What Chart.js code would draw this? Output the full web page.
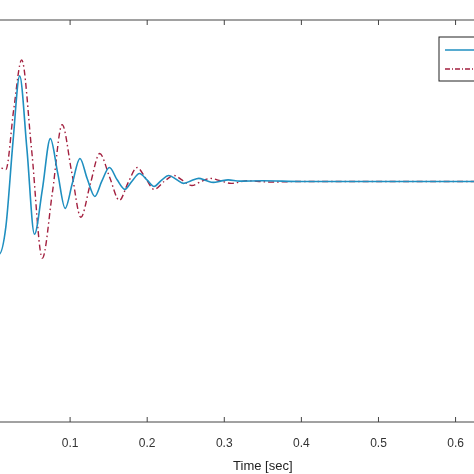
<!DOCTYPE html>
<html>
<head>
<meta charset="utf-8">
<script src="https://cdn.jsdelivr.net/npm/chart.js@4"></script>
<style>
  html, body { margin: 0; padding: 0; background: #fff; overflow: hidden; }
  #wrap { position: absolute; left: -13px; top: 0; width: 560px; height: 474px; }
</style>
</head>
<body>
<div id="wrap"><canvas id="c"></canvas></div>
<script>
// response 1 (solid, blue)
const timeA = [0, 0.008, 0.0167, 0.026, 0.0346, 0.044, 0.0538, 0.064, 0.0744, 0.084, 0.0936, 0.103, 0.1128, 0.122, 0.132, 0.141, 0.151, 0.161, 0.171, 0.18, 0.19, 0.2, 0.209, 0.218, 0.228, 0.238, 0.247, 0.257, 0.267, 0.276, 0.286, 0.295, 0.305, 0.32, 0.35, 0.4, 0.5, 0.6, 0.7];
const valueA = [-0.3, -0.45, -0.28, 0.25, 0.654, 0.2, -0.327, -0.05, 0.265, 0.05, -0.167, -0.01, 0.142, 0.02, -0.093, 0, 0.086, 0.01, -0.049, 0, 0.049, 0.008, -0.031, 0.005, 0.037, 0.012, -0.012, 0.004, 0.019, 0.006, -0.006, 0.002, 0.01, 0.002, 0.004, 0, 0, 0, 0];
// response 2 (dash-dot, red)
const timeB = [0, 0.008, 0.0167, 0.027, 0.0372, 0.05, 0.064, 0.077, 0.0897, 0.102, 0.114, 0.126, 0.1385, 0.151, 0.164, 0.175, 0.187, 0.198, 0.209, 0.222, 0.235, 0.246, 0.258, 0.27, 0.282, 0.295, 0.309, 0.33, 0.36, 0.4, 0.5, 0.6, 0.7];
const valueB = [0.1, 0.09, 0.074, 0.45, 0.753, 0.2, -0.475, -0.07, 0.352, 0.06, -0.222, -0.02, 0.173, 0.03, -0.117, -0.01, 0.086, 0.02, -0.049, 0, 0.037, 0.006, -0.025, 0, 0.019, 0.004, -0.012, 0.004, -0.004, 0, 0, 0, 0];
const labels = ['Response 1', 'Response 2'];
const xTicks = [0, 0.1, 0.2, 0.3, 0.4, 0.5, 0.6, 0.7];

const frame = {
    id: 'frame',
    afterDraw(chart) {
        const { ctx, chartArea: a, scales } = chart;
        ctx.save();
        ctx.strokeStyle = '#444';
        ctx.lineWidth = 1;
        ctx.strokeRect(a.left, a.top, a.right - a.left, a.bottom - a.top);
        xTicks.forEach(function (t) {
            const x = scales.x.getPixelForValue(t);
            ctx.beginPath();
            ctx.moveTo(x, a.top); ctx.lineTo(x, a.top + 5);
            ctx.moveTo(x, a.bottom); ctx.lineTo(x, a.bottom - 5);
            ctx.stroke();
        });
        // legend box
        const lx = 452, ly = 37;
        ctx.fillStyle = '#fff';
        ctx.fillRect(lx, ly, 200, 44);
        ctx.strokeStyle = '#222';
        ctx.strokeRect(lx, ly, 200, 44);
        ctx.lineWidth = 1.5;
        ctx.strokeStyle = '#1f8fc0';
        ctx.beginPath(); ctx.moveTo(lx + 6, ly + 13); ctx.lineTo(lx + 40, ly + 13); ctx.stroke();
        ctx.strokeStyle = '#a3203f';
        ctx.setLineDash([5, 2, 1, 2]);
        ctx.beginPath(); ctx.moveTo(lx + 6, ly + 32); ctx.lineTo(lx + 40, ly + 32); ctx.stroke();
        ctx.setLineDash([]);
        ctx.fillStyle = '#222';
        ctx.font = '12px "Liberation Sans Narrow", "Liberation Sans", sans-serif';
        ctx.textBaseline = 'middle';
        ctx.fillText(labels[0], lx + 46, ly + 13);
        ctx.fillText(labels[1], lx + 46, ly + 32);
        ctx.restore();
    }
};

new Chart(document.getElementById('c'), {
    type: 'line',
    data: {
        datasets: [{
            label: labels[0],
            data: timeA.map((t, i) => ({ x: t, y: valueA[i] })),
            borderColor: '#1f8fc0',
            borderWidth: 1.6,
            pointRadius: 0,
            cubicInterpolationMode: 'monotone'
        }, {
            label: labels[1],
            data: timeB.map((t, i) => ({ x: t, y: valueB[i] })),
            borderColor: '#a3203f',
            borderWidth: 1.4,
            borderDash: [6, 3, 1.5, 3],
            pointRadius: 0,
            cubicInterpolationMode: 'monotone'
        }]
    },
    plugins: [frame],
    options: {
        responsive: true,
        maintainAspectRatio: false,
        animation: false,
        layout: { padding: { top: 20, left: 0, right: 0, bottom: 0 } },
        plugins: { legend: { display: false }, tooltip: { enabled: false } },
        scales: {
            x: {
                type: 'linear',
                min: 0,
                max: 0.7,
                afterBuildTicks: function (s) { s.ticks = xTicks.map(v => ({ value: v })); },
                grid: { display: false },
                border: { display: false },
                ticks: {
                    color: '#333',
                    padding: 6,
                    font: { family: '"Liberation Sans Narrow", "Liberation Sans"', size: 12 },
                    callback: v => v === 0 ? '' : v.toFixed(1)
                },
                title: {
                    display: true,
                    text: 'Time [sec]',
                    color: '#222',
                    padding: { top: 2, bottom: 0 },
                    font: { family: '"Liberation Sans Narrow", "Liberation Sans"', size: 13 }
                }
            },
            y: {
                min: -1.49,
                max: 1,
                display: false
            }
        }
    }
});
</script>
</body>
</html>
